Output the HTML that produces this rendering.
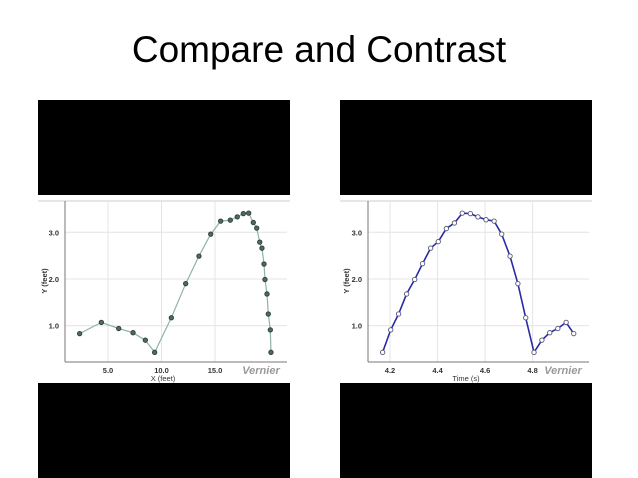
<!DOCTYPE html>
<html><head><meta charset="utf-8"><style>
html,body{margin:0;padding:0;background:#fff;width:638px;height:478px;overflow:hidden;font-family:"Liberation Sans",sans-serif}
#title{position:absolute;left:0;width:638px;top:29px;text-align:center;font-size:37px;color:#000}
.blk{position:absolute;background:#000}
svg{position:absolute;left:0;top:0}
</style></head><body>
<div id="title">Compare and Contrast</div>
<div class="blk" style="left:38px;top:100px;width:252px;height:95px"></div>
<div class="blk" style="left:340px;top:100px;width:252px;height:95px"></div>
<div class="blk" style="left:38px;top:383px;width:252px;height:95px"></div>
<div class="blk" style="left:340px;top:383px;width:252px;height:95px"></div>
<svg id="svg" width="638" height="478"></svg>
<script>
const leftX=[2.35,4.38,6.0,7.34,8.49,9.36,10.92,12.26,13.5,14.6,15.53,16.43,17.08,17.65,18.15,18.58,18.9,19.18,19.39,19.58,19.67,19.86,19.98,20.17,20.23];
const leftY=[0.83,1.07,0.94,0.85,0.69,0.43,1.17,1.90,2.49,2.96,3.24,3.26,3.33,3.40,3.41,3.21,3.09,2.79,2.66,2.32,1.99,1.68,1.25,0.91,0.43];
const rightX=[4.169,4.203,4.236,4.270,4.304,4.337,4.371,4.403,4.437,4.471,4.504,4.538,4.570,4.604,4.638,4.670,4.705,4.738,4.771,4.806,4.839,4.872,4.906,4.941,4.973];
const rightY=[0.43,0.91,1.25,1.68,1.99,2.33,2.66,2.80,3.08,3.20,3.41,3.40,3.33,3.27,3.24,2.96,2.49,1.90,1.17,0.43,0.69,0.85,0.94,1.07,0.83];
const leftXTicks=[5,10,15];
const leftXTickLabels=["5.0","10.0","15.0"];
const rightXTicks=[4.2,4.4,4.6,4.8];
const rightXTickLabels=["4.2","4.4","4.6","4.8"];
const yTicks=[1,2,3];
const yTickLabels=["1.0","2.0","3.0"];

const NS="http://www.w3.org/2000/svg";
const svg=document.getElementById('svg');
function mk(tag,attrs,parent){const e=document.createElementNS(NS,tag);for(const k in attrs)e.setAttribute(k,attrs[k]);(parent||svg).appendChild(e);return e;}
const yS=v=>372.4-46.7*v;

function chart(cfg){
  const g=mk('g',{});
  
  
  mk('rect',{x:cfg.bx,y:195,width:252,height:188,fill:'#fff'},g);
  mk('line',{x1:cfg.bx,x2:cfg.bx+252,y1:201,y2:201,stroke:'#ccc','stroke-width':1},g);
  const L=cfg.left,R=cfg.bx+249,T=201,B=362;
  cfg.xt.forEach((t,i)=>{const x=cfg.xS(t);
    const gl=mk('line',{x1:x,x2:x,y1:T,y2:B,stroke:'#e4e4e4','stroke-width':1},g);
    
    
    const tx=mk('text',{x:x,y:373,'font-size':7.5,'text-anchor':'middle',fill:'#333','font-weight':'bold'},g);
    tx.textContent=cfg.xl[i];
    
    
  });
  yTicks.forEach((t,i)=>{const y=yS(t);
    const gl=mk('line',{x1:L,x2:R,y1:y,y2:y,stroke:'#e4e4e4','stroke-width':1},g);
    
    
    const tx=mk('text',{x:L-6,y:y+3,'font-size':7.5,'text-anchor':'end',fill:'#333','font-weight':'bold'},g);
    tx.textContent=yTickLabels[i];
    
    
  });
  mk('line',{x1:L,x2:L,y1:T,y2:B,stroke:'#777','stroke-width':1},g);
  mk('line',{x1:L,x2:R,y1:B,y2:B,stroke:'#777','stroke-width':1},g);
  const xt=mk('text',{x:cfg.xlabX,y:381,'font-size':7.5,'text-anchor':'middle',fill:'#333'},g);
  xt.textContent=cfg.xlab;
  
  
  const yt=mk('text',{x:0,y:0,'font-size':7.5,'text-anchor':'middle',fill:'#333','font-weight':'bold',transform:`translate(${cfg.bx+9},281) rotate(-90)`},g);
  yt.textContent='Y (feet)';
  
  
  const lg=mk('text',{x:cfg.bx+223,y:374,'font-size':11,'text-anchor':'middle',fill:'#999','font-weight':'bold','font-style':'italic'},g);
  lg.textContent='Vernier';
  
  
  const pts=cfg.X.map((v,i)=>cfg.xS(v).toFixed(1)+','+yS(cfg.Y[i]).toFixed(1)).join(' ');
  const pl=mk('polyline',{points:pts,fill:'none',stroke:cfg.lc,'stroke-width':cfg.lw},g);
  
  
  cfg.X.forEach((v,i)=>{
    const c=mk('circle',{cx:cfg.xS(v),cy:yS(cfg.Y[i]),r:2.2,fill:cfg.pf,stroke:cfg.ps,'stroke-width':0.9},g);
    
    
  });
}
chart({name:'left-chart-x-vs-y',bx:38,left:65,xS:v=>54.5+10.7*v,xt:leftXTicks,xl:leftXTickLabels,xlab:'X (feet)',xlabX:163,X:leftX,Y:leftY,lc:'#8fb3a3',lw:1.2,pf:'#4f6b60',ps:'#2d3d36'});
chart({name:'right-chart-time-vs-y',bx:340,left:368,xS:v=>390+237.7*(v-4.2),xt:rightXTicks,xl:rightXTickLabels,xlab:'Time (s)',xlabX:466,X:rightX,Y:rightY,lc:'#2a2aa8',lw:1.6,pf:'#fff',ps:'#55557a'});
</script>
</body></html>
